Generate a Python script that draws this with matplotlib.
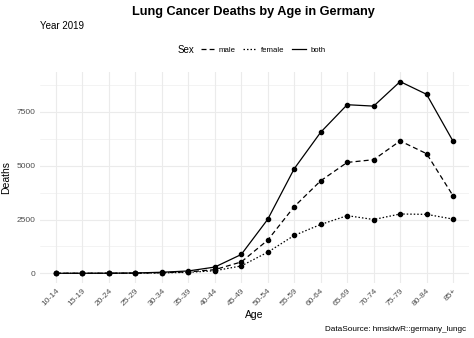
import matplotlib
matplotlib.use("Agg")
import matplotlib.pyplot as plt
import numpy as np

plt.rcParams['font.family'] = ['Liberation Sans', 'DejaVu Sans']

age_groups = ["10-14", "15-19", "20-24", "25-29", "30-34", "35-39", "40-44",
              "45-49", "50-54", "55-59", "60-64", "65-69", "70-74", "75-79",
              "80-84", "85+"]
male = [1, 2, 3, 8, 30, 65, 170, 528, 1542, 3100, 4300, 5154, 5280, 6153, 5560, 3600]
female = [0, 1, 2, 7, 20, 45, 120, 343, 981, 1760, 2270, 2680, 2500, 2757, 2740, 2520]
both = [1, 3, 5, 15, 50, 110, 290, 875, 2510, 4860, 6556, 7836, 7771, 8911, 8318, 6136]
series = {"male": (male, (0, (4, 2.5))), "female": (female, (0, (1.2, 1.6))), "both": (both, "-")}
yticks = [0, 2500, 5000, 7500]

fig = plt.figure(figsize=(4.74, 3.38), dpi=100)
ax = fig.add_axes([0.0844, 0.163, 0.905, 0.624])

x = np.arange(1, len(age_groups) + 1)
handles = []
for name, (vals, ls) in series.items():
    ln, = ax.plot(x, vals, color="black", linestyle=ls, linewidth=0.9,
                  marker="o", markersize=3.0, label=name)
    handles.append(ln)

ax.set_xlim(0.4, 16.6)
ymax = max(both)
ax.set_ylim(-0.05 * ymax, ymax * 1.05)
ax.set_xticks(x)
ax.set_xticklabels(age_groups, rotation=45, ha="right", rotation_mode="anchor",
                   fontsize=6.0, color="#4d4d4d")
ax.set_yticks(yticks)
ax.set_yticklabels([str(v) for v in yticks], fontsize=6.0, color="#4d4d4d")
ax.set_yticks([1250, 3750, 6250, 8750], minor=True)
ax.tick_params(axis="both", which="both", length=0, pad=3)
ax.grid(True, which="major", color="#ebebeb", linewidth=0.8)
ax.grid(True, which="minor", axis="y", color="#ebebeb", linewidth=0.4)
ax.set_axisbelow(True)
for s in ax.spines.values():
    s.set_visible(False)

ax.set_xlabel("Age", fontsize=7.5, labelpad=2)
ax.set_ylabel("Deaths", fontsize=7.5, labelpad=4)

fig.text(0.535, 0.965, "Lung Cancer Deaths by Age in Germany", ha="center", va="center",
         fontsize=9.2, fontweight="bold")
fig.text(0.085, 0.922, "Year 2019", ha="left", va="center", fontsize=7)
fig.text(0.375, 0.852, "Sex", ha="left", va="center", fontsize=7)
fig.legend(handles=handles, labels=["male", "female", "both"], ncol=3, frameon=False,
           loc="center left", bbox_to_anchor=(0.415, 0.852), fontsize=5.6,
           handlelength=1.7, handletextpad=0.6, columnspacing=1.0, borderpad=0,
           markerscale=0)
fig.text(0.984, 0.025, "DataSource: hmsidwR::germany_lungc", ha="right", va="center",
         fontsize=5.9)

fig.savefig("out.png", dpi=100)
